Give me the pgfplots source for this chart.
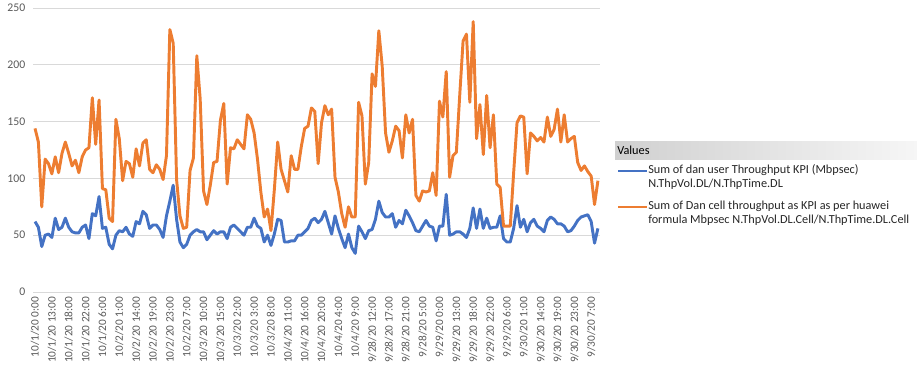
\documentclass[border=0pt]{standalone}
\usepackage{fontspec}
\setmainfont{Carlito}
\usepackage{pgfplots}
\pgfplotsset{compat=1.18}
\usepackage{pgfplotstable}
\definecolor{xblue}{HTML}{4472C4}
\definecolor{xorange}{HTML}{ED7D31}
\definecolor{xgrid}{HTML}{D9D9D9}
\definecolor{xtext}{HTML}{595959}
\definecolor{xlegend}{HTML}{262626}

\pgfplotstableread{
i user cell
0 62 144
1 57 132
2 40 75
3 50 117
4 51 113
5 48 104
6 65 119
7 55 105
8 57 122
9 65 132
10 57 122
11 53 111
12 52 116
13 52 105
14 57 119
15 59 125
16 47 127
17 69 171
18 67 130
19 84 169
20 56 91
21 57 90
22 42 65
23 38 62
24 50 152
25 54 135
26 53 98
27 57 115
28 51 113
29 49 101
30 62 126
31 60 111
32 71 131
33 68 134
34 56 108
35 59 105
36 59 112
37 55 108
38 48 99
39 67 120
40 80 231
41 94 219
42 64 99
43 44 67
44 39 56
45 42 57
46 50 107
47 53 118
48 55 208
49 53 170
50 53 89
51 46 77
52 50 94
53 54 114
54 51 115
55 53 151
56 53 166
57 47 95
58 57 127
59 59 126
60 56 134
61 53 130
62 50 126
63 57 156
64 57 152
65 65 140
66 58 117
67 56 88
68 44 66
69 50 73
70 41 54
71 51 90
72 64 132
73 63 108
74 44 98
75 44 88
76 45 120
77 45 108
78 50 108
79 50 128
80 53 144
81 56 146
82 63 162
83 65 159
84 61 113
85 64 149
86 71 164
87 61 156
88 51 161
89 67 101
90 56 88
91 47 69
92 39 57
93 51 75
94 39 66
95 34 66
96 58 167
97 53 155
98 47 95
99 54 114
100 55 192
101 64 181
102 80 230
103 70 199
104 66 140
105 66 123
106 69 133
107 57 146
108 63 142
109 60 118
110 72 156
111 67 140
112 61 152
113 54 85
114 53 80
115 58 89
116 63 88
117 58 89
118 57 105
119 45 85
120 58 168
121 58 154
122 86 194
123 50 101
124 51 120
125 53 123
126 53 173
127 51 221
128 48 227
129 56 167
130 74 238
131 56 135
132 73 165
133 56 121
134 65 173
135 56 127
136 57 156
137 57 95
138 67 92
139 47 58
140 44 58
141 44 58
142 56 105
143 76 149
144 57 155
145 64 154
146 53 104
147 61 140
148 64 137
149 58 133
150 56 136
151 53 132
152 63 154
153 66 137
154 64 143
155 60 161
156 60 132
157 58 156
158 53 132
159 54 135
160 58 137
161 63 114
162 66 107
163 67 111
164 68 106
165 62 102
166 43 77
167 56 98
}\data

\begin{document}
\begin{tikzpicture}
\useasboundingbox (0,0) rectangle (687.75pt,281.25pt);
\begin{axis}[
  at={(25pt,62.25pt)}, anchor=south west,
  scale only axis, width=424.7pt, height=213pt,
  xmin=-0.5, xmax=167.5, ymin=0, ymax=250,
  ytick={0,50,...,250},
  xtick={0,5,...,165},
  xticklabels={10/1/20 0:00,10/1/20 13:00,10/1/20 18:00,10/1/20 22:00,10/1/20 6:00,
    10/2/20 1:00,10/2/20 14:00,10/2/20 19:00,10/2/20 23:00,10/2/20 7:00,
    10/3/20 10:00,10/3/20 15:00,10/3/20 2:00,10/3/20 3:00,10/3/20 8:00,
    10/4/20 11:00,10/4/20 16:00,10/4/20 20:00,10/4/20 4:00,10/4/20 9:00,
    9/28/20 12:00,9/28/20 17:00,9/28/20 21:00,9/28/20 5:00,
    9/29/20 0:00,9/29/20 13:00,9/29/20 18:00,9/29/20 22:00,9/29/20 6:00,
    9/30/20 1:00,9/30/20 14:00,9/30/20 19:00,9/30/20 23:00,9/30/20 7:00},
  axis line style={draw=none},
  major tick length=0pt,
  ymajorgrids, grid style={xgrid, line width=0.75pt},
  yticklabel style={font=\fontsize{8.8}{10}\selectfont, text=xtext, xshift=-2.5pt},
  xticklabel style={font=\fontsize{8.5}{10}\selectfont, text=xtext, yshift=-3.5pt, rotate=90, anchor=east, inner sep=0pt},
  /pgf/number format/assume math mode=true,
  clip=false,
]
\addplot[xblue, line width=2.2pt, line join=round] table[x=i, y=user] {\data};
\addplot[xorange, line width=2.2pt, line join=round] table[x=i, y=cell] {\data};
\end{axis}
% legend
\shade[left color={rgb,255:red,208;green,208;blue,208}, right color={rgb,255:red,246;green,246;blue,246}]
  (461.25pt,161.8pt) rectangle (687.75pt,175pt);
\node[anchor=west, inner sep=0pt, font=\fontsize{9.2}{11}\selectfont, text=black] at (462.75pt,168.4pt) {Values};
\draw[xblue, line width=2.2pt] (463.5pt,153pt) -- (485.25pt,153pt);
\draw[xorange, line width=2.2pt] (463.5pt,126pt) -- (485.25pt,126pt);
\begin{scope}[every node/.style={anchor=west, inner sep=0pt, font=\fontsize{9.2}{11}\selectfont, text=xlegend}]
\node at (486pt,153.75pt) {Sum of dan user Throughput KPI (Mbpsec)};
\node at (486pt,143.25pt) {N.ThpVol.DL/N.ThpTime.DL};
\node at (486pt,126.75pt) {Sum of Dan cell throughput as KPI as per huawei};
\node at (486pt,116.25pt) {formula Mbpsec N.ThpVol.DL.Cell/N.ThpTime.DL.Cell};
\end{scope}
\end{tikzpicture}
\end{document}
